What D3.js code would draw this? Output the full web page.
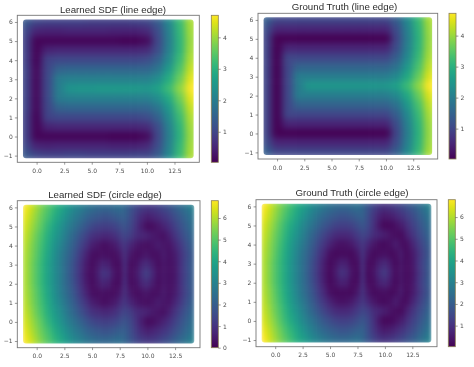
<!DOCTYPE html>
<html>
<head>
<meta charset="utf-8">
<script src="https://cdnjs.cloudflare.com/ajax/libs/d3/7.8.5/d3.min.js"></script>
<style>
  html, body { margin: 0; padding: 0; background: #fff; }
  svg { display: block; }
  .tick text { font-family: "DejaVu Sans", sans-serif; font-size: 6px; fill: #444; opacity: 0.95; }
  .tick line { stroke: #555; stroke-width: 0.6; }
  .domain { display: none; }
  .title { font-family: "Liberation Sans", Arial, sans-serif; font-size: 9.7px; fill: #222; text-anchor: middle; opacity: 0.95; }
</style>
</head>
<body>
<svg id="fig" width="474" height="367"></svg>
<script>
const xTicks = [0, 2.5, 5, 7.5, 10, 12.5];
const yTicks = [-1, 0, 1, 2, 3, 4, 5, 6];
const yRows = [6, 5.5, 5, 4.5, 4, 3.5, 3, 2.5, 2, 1.5, 1, 0.5, 0, -0.5, -1];
const xLine = [-1, 0, 1, 2, 3, 4, 5, 6, 7, 8, 9, 10, 11, 12, 13, 14];
const xCircle = [-1, -0.5, 0, 0.5, 1, 1.5, 2, 2.5, 3, 3.5, 4, 4.5, 5, 5.5, 6, 6.5, 7, 7.5, 8, 8.5, 9, 9.5, 10, 10.5, 11, 11.5, 12, 12.5, 13, 13.5, 14];

const lineTicks = [1, 2, 3, 4];
const learnedCircleTicks = [0, 1, 2, 3, 4, 5, 6];
const truthCircleTicks = [1, 2, 3, 4, 5, 6];

const learnedLine = [
  [1.3,1,.95,.95,.95,.95,.9,.9,.9,.9,.95,1,1.35,2.2,3.2,4.1],
  [1.05,.5,.45,.45,.5,.5,.5,.5,.45,.45,.45,.55,1.1,2.05,3.1,4.05],
  [.95,.1,.1,.1,.1,.1,.1,.1,.1,.05,.05,.15,1,2,3.05,4],
  [.95,.1,.5,.55,.55,.55,.55,.55,.55,.55,.55,.6,1.1,2.05,3.05,4.05],
  [.95,.1,.95,1.05,1.05,1.05,1.05,1.05,1.05,1.05,1.05,1.1,1.45,2.25,3.2,4.15],
  [1,.15,1,1.5,1.55,1.55,1.55,1.55,1.55,1.55,1.55,1.55,1.85,2.55,3.4,4.3],
  [1,.15,1.05,1.95,2.05,2.05,2.05,2.05,2.05,2.05,2.05,2.05,2.3,2.9,3.65,4.5],
  [1,.15,1.05,2,2.45,2.5,2.5,2.55,2.55,2.55,2.55,2.5,2.7,3.2,3.9,4.7],
  [1,.15,1.05,1.95,2.05,2.05,2.05,2.05,2.05,2.05,2.05,2.05,2.3,2.85,3.65,4.5],
  [1,.15,1,1.5,1.55,1.55,1.55,1.55,1.55,1.55,1.55,1.55,1.85,2.5,3.4,4.3],
  [.95,.1,.95,1.05,1.05,1.05,1.05,1.05,1.05,1.05,1.05,1.1,1.45,2.25,3.2,4.15],
  [.95,.1,.5,.55,.55,.55,.55,.55,.55,.55,.55,.6,1.1,2.05,3.05,4.05],
  [.95,.1,.1,.1,.1,.1,.1,.1,.05,.05,.05,.15,1,2,3,4],
  [1.05,.5,.45,.5,.5,.5,.5,.5,.45,.45,.45,.55,1.1,2.05,3.1,4.05],
  [1.3,1,.95,.95,1,1,.95,.95,.95,.95,1,1,1.35,2.2,3.2,4.1]
];

const truthLine = [
  [1.41,1,1,1,1,1,1,1,1,1,1,1,1.41,2.24,3.16,4.12],
  [1.12,.5,.5,.5,.5,.5,.5,.5,.5,.5,.5,.5,1.12,2.06,3.04,4.03],
  [1,0,0,0,0,0,0,0,0,0,0,0,1,2,3,4],
  [1,0,.5,.5,.5,.5,.5,.5,.5,.5,.5,.5,1.12,2.06,3.04,4.03],
  [1,0,1,1,1,1,1,1,1,1,1,1,1.41,2.24,3.16,4.12],
  [1,0,1,1.5,1.5,1.5,1.5,1.5,1.5,1.5,1.5,1.5,1.8,2.5,3.35,4.27],
  [1,0,1,2,2,2,2,2,2,2,2,2,2.24,2.83,3.61,4.47],
  [1,0,1,2,2.5,2.5,2.5,2.5,2.5,2.5,2.5,2.5,2.69,3.2,3.9,4.72],
  [1,0,1,2,2,2,2,2,2,2,2,2,2.24,2.83,3.61,4.47],
  [1,0,1,1.5,1.5,1.5,1.5,1.5,1.5,1.5,1.5,1.5,1.8,2.5,3.35,4.27],
  [1,0,1,1,1,1,1,1,1,1,1,1,1.41,2.24,3.16,4.12],
  [1,0,.5,.5,.5,.5,.5,.5,.5,.5,.5,.5,1.12,2.06,3.04,4.03],
  [1,0,0,0,0,0,0,0,0,0,0,0,1,2,3,4],
  [1.12,.5,.5,.5,.5,.5,.5,.5,.5,.5,.5,.5,1.12,2.06,3.04,4.03],
  [1.41,1,1,1,1,1,1,1,1,1,1,1,1.41,2.24,3.16,4.12]
];

const truthCircle = [
  [6.8,6.35,5.9,5.45,5.05,4.65,4.25,3.9,3.55,3.2,2.95,2.7,2.5,2.35,2.3,2.3,2.4,2.5,2.25,1.8,1.4,1.1,1,1.1,1.25,1.45,1.7,1.95,2.25,2.6,2.95],
  [6.6,6.15,5.7,5.25,4.8,4.4,4,3.6,3.2,2.85,2.5,2.25,2.05,1.9,1.8,1.8,1.9,2.05,2.1,1.6,1.1,.7,.5,.6,.75,1,1.25,1.55,1.9,2.25,2.65],
  [6.4,5.95,5.5,5,4.55,4.1,3.7,3.25,2.85,2.5,2.15,1.85,1.6,1.4,1.3,1.3,1.4,1.6,1.85,1.5,1,.45,.15,.18,.3,.55,.9,1.25,1.6,2,2.4],
  [6.25,5.8,5.3,4.85,4.35,3.9,3.45,3,2.55,2.15,1.75,1.4,1.1,.9,.8,.8,.95,1.2,1.45,1.25,.9,.75,.6,.4,.25,.2,.6,1,1.4,1.8,2.2],
  [6.15,5.65,5.2,4.7,4.2,3.7,3.25,2.8,2.35,1.9,1.45,1.05,.7,.45,.3,.35,.5,.8,1.1,.75,.45,.25,.2,.32,.56,.3,.25,.65,1.1,1.55,2],
  [6.05,5.6,5.1,4.6,4.1,3.6,3.1,2.6,2.15,1.7,1.2,.75,.32,.2,.22,.22,.2,.45,1,.45,.2,.25,.3,.2,.25,.5,.22,.45,.9,1.4,1.85],
  [6,5.5,5,4.5,4,3.5,3,2.5,2.05,1.55,1.05,.55,.2,.35,.65,.6,.25,.25,.9,.25,.27,.66,.8,.52,.2,.42,.25,.4,.95,1.45,1.95],
  [6,5.5,5,4.5,4,3.5,3,2.5,2,1.5,1,.5,.2,.5,1,.9,.4,.22,.85,.22,.4,.9,1.2,.7,.25,.42,.25,.35,.9,1.4,1.9],
  [6,5.5,5,4.5,4,3.5,3,2.5,2.05,1.55,1.05,.55,.2,.35,.65,.6,.25,.25,.9,.25,.27,.66,.8,.52,.2,.42,.25,.4,.95,1.45,1.95],
  [6.05,5.6,5.1,4.6,4.1,3.6,3.1,2.6,2.15,1.7,1.2,.75,.32,.2,.22,.22,.2,.45,1,.45,.2,.25,.3,.2,.25,.5,.22,.45,.9,1.4,1.85],
  [6.15,5.65,5.2,4.7,4.2,3.7,3.25,2.8,2.35,1.9,1.45,1.05,.7,.45,.3,.35,.5,.8,1.1,.75,.45,.25,.2,.32,.56,.3,.25,.65,1.1,1.55,2],
  [6.25,5.8,5.3,4.85,4.35,3.9,3.45,3,2.55,2.15,1.75,1.4,1.1,.9,.8,.8,.95,1.2,1.45,1.25,.9,.75,.6,.4,.25,.2,.6,1,1.4,1.8,2.2],
  [6.4,5.95,5.5,5,4.55,4.1,3.7,3.25,2.85,2.5,2.15,1.85,1.6,1.4,1.3,1.3,1.4,1.6,1.85,1.5,1,.45,.15,.18,.3,.55,.9,1.25,1.6,2,2.4],
  [6.6,6.15,5.7,5.25,4.8,4.4,4,3.6,3.2,2.85,2.5,2.25,2.05,1.9,1.8,1.8,1.9,2.05,2.1,1.6,1.1,.7,.5,.6,.75,1,1.25,1.55,1.9,2.25,2.65],
  [6.8,6.35,5.9,5.45,5.05,4.65,4.25,3.9,3.55,3.2,2.95,2.7,2.5,2.35,2.3,2.3,2.4,2.5,2.25,1.8,1.4,1.1,1,1.1,1.25,1.45,1.7,1.95,2.25,2.6,2.95]
];

const learnedCircle = [
  [6.7,6.3,5.85,5.4,5,4.6,4.2,3.85,3.5,3.15,2.9,2.65,2.45,2.3,2.25,2.25,2.35,2.4,2.2,1.8,1.45,1.2,1.1,1.15,1.3,1.5,1.7,2,2.3,2.6,2.9],
  [6.55,6.1,5.65,5.2,4.8,4.35,3.95,3.55,3.15,2.8,2.5,2.2,2,1.85,1.75,1.75,1.85,2,2,1.6,1.15,.8,.6,.7,.85,1.05,1.3,1.6,1.9,2.25,2.6],
  [6.35,5.9,5.45,5,4.5,4.05,3.65,3.2,2.8,2.45,2.1,1.8,1.5,1.35,1.25,1.25,1.35,1.55,1.75,1.45,1,.55,.2,.25,.45,.65,.95,1.3,1.65,2,2.4],
  [6.2,5.75,5.25,4.8,4.3,3.85,3.4,2.95,2.5,2.1,1.7,1.35,1,.85,.75,.75,.9,1.15,1.4,1.2,.85,.75,.65,.5,.35,.3,.6,1,1.4,1.8,2.2],
  [6.1,5.6,5.15,4.65,4.15,3.65,3.2,2.75,2.3,1.85,1.4,1,.6,.4,.25,.3,.45,.75,1.05,.7,.45,.3,.25,.35,.55,.4,.35,.7,1.1,1.55,2],
  [6,5.55,5.05,4.55,4.05,3.55,3.05,2.55,2.1,1.65,1.15,.65,.28,.22,.3,.25,.22,.45,.9,.4,.22,.3,.4,.25,.28,.5,.3,.5,.95,1.4,1.85],
  [5.95,5.45,4.95,4.45,3.95,3.45,2.95,2.45,2,1.5,1,.5,.22,.4,.7,.6,.25,.25,.8,.22,.3,.7,.85,.55,.25,.42,.3,.45,.95,1.45,1.9],
  [5.95,5.45,4.95,4.45,3.95,3.45,2.95,2.45,1.95,1.45,.95,.45,.22,.55,1.05,.95,.4,.22,.75,.22,.45,.95,1.25,.75,.3,.42,.3,.4,.95,1.4,1.9],
  [5.95,5.45,4.95,4.45,3.95,3.45,2.95,2.45,2,1.5,1,.5,.22,.4,.7,.6,.25,.25,.8,.22,.3,.7,.85,.55,.25,.42,.3,.45,.95,1.45,1.9],
  [6,5.55,5.05,4.55,4.05,3.55,3.05,2.55,2.1,1.65,1.15,.65,.28,.22,.3,.25,.22,.45,.9,.4,.22,.3,.4,.25,.28,.5,.3,.5,.95,1.4,1.85],
  [6.1,5.6,5.15,4.65,4.15,3.65,3.2,2.75,2.3,1.85,1.4,1,.6,.4,.25,.3,.45,.75,1.05,.7,.45,.3,.25,.35,.55,.4,.35,.7,1.1,1.55,2],
  [6.2,5.75,5.25,4.8,4.3,3.85,3.4,2.95,2.5,2.1,1.7,1.35,1,.85,.75,.75,.9,1.15,1.4,1.2,.85,.75,.65,.5,.35,.3,.6,1,1.4,1.8,2.2],
  [6.35,5.9,5.45,5,4.5,4.05,3.65,3.2,2.8,2.45,2.1,1.8,1.5,1.35,1.25,1.25,1.35,1.55,1.75,1.45,1,.55,.2,.25,.45,.65,.95,1.3,1.65,2,2.4],
  [6.55,6.1,5.65,5.2,4.8,4.35,3.95,3.55,3.15,2.8,2.5,2.2,2,1.85,1.75,1.75,1.85,2,2,1.6,1.15,.8,.6,.7,.85,1.05,1.3,1.6,1.9,2.25,2.6],
  [6.7,6.3,5.85,5.4,5,4.6,4.2,3.85,3.5,3.15,2.9,2.65,2.45,2.3,2.25,2.25,2.35,2.4,2.2,1.8,1.45,1.2,1.1,1.15,1.3,1.5,1.7,2,2.3,2.6,2.9]
];

const svg = d3.select("#fig");
const defs = svg.append("defs");

// viridis gradient for the colorbars
let grad = defs.append("linearGradient")
  .attr("id", "viridis")
  .attr("x1", 0).attr("x2", 0).attr("y1", 1).attr("y2", 0);
d3.range(0, 1.01, 0.05).forEach(function(t) {
  grad.append("stop").attr("offset", t).attr("stop-color", d3.interpolateViridis(t));
});

function drawPanel(id, opts) {
  let x = d3.scaleLinear().domain([-1.75, 14.75]).range([opts.left, opts.right]);
  let y = d3.scaleLinear().domain([-1.35, 6.35]).range([opts.bottom, opts.top]);
  let color = d3.scaleSequential(d3.interpolateViridis).domain(opts.range);

  let dx = x(opts.cols[1]) - x(opts.cols[0]);
  let dy = y(yRows[1]) - y(yRows[0]);

  // blur smooths the cells, the clip gives the rounded marker edge
  let f = defs.append("filter")
    .attr("id", "blur" + id)
    .attr("filterUnits", "userSpaceOnUse")
    .attr("x", x(-1) - dx / 2).attr("y", y(6) - dy / 2)
    .attr("width", x(14) - x(-1) + dx).attr("height", y(-1) - y(6) + dy)
    .attr("color-interpolation-filters", "sRGB");
  f.append("feGaussianBlur")
    .attr("stdDeviation", opts.blur)
    .attr("edgeMode", "duplicate");

  defs.append("clipPath").attr("id", "clip" + id)
    .append("rect")
    .attr("x", x(-1) - 2.6).attr("y", y(6) - 2.6)
    .attr("width", x(14) - x(-1) + 5.2).attr("height", y(-1) - y(6) + 5.2)
    .attr("rx", 3);

  let cells = svg.append("g").attr("clip-path", "url(#clip" + id + ")")
    .append("g").attr("filter", "url(#blur" + id + ")");

  opts.values.forEach(function(row, i) {
    cells.selectAll(null)
      .data(row)
      .enter().append("rect")
      .attr("x", function(d, j) { return x(opts.cols[j]) - dx / 2 - 0.3; })
      .attr("y", y(yRows[i]) - dy / 2 - 0.3)
      .attr("width", dx + 0.6)
      .attr("height", dy + 0.6)
      .attr("fill", function(d) { return color(d); });
  });

  svg.append("rect")
    .attr("x", opts.left).attr("y", opts.top)
    .attr("width", opts.right - opts.left).attr("height", opts.bottom - opts.top)
    .attr("fill", "none").attr("stroke", "#777").attr("stroke-width", 0.9);

  svg.append("g")
    .attr("transform", "translate(0," + opts.bottom + ")")
    .call(d3.axisBottom(x).tickValues(xTicks).tickFormat(d3.format(".1f")).tickSize(2.4).tickPadding(4));
  svg.append("g")
    .attr("transform", "translate(" + opts.left + ",0)")
    .call(d3.axisLeft(y).tickValues(yTicks).tickFormat(d3.format("d")).tickSize(2.4).tickPadding(2.2));

  svg.append("text").attr("class", "title")
    .attr("x", opts.titleX).attr("y", opts.titleY)
    .text(opts.title);

  // colorbar
  let c = d3.scaleLinear().domain(opts.range).range([opts.bottom, opts.top]);
  svg.append("rect")
    .attr("x", opts.barX).attr("y", opts.top)
    .attr("width", 7).attr("height", opts.bottom - opts.top)
    .attr("fill", "url(#viridis)")
    .attr("stroke", "#8a7f55").attr("stroke-width", 0.8);
  svg.append("g")
    .attr("transform", "translate(" + (opts.barX + 7) + ",0)")
    .call(d3.axisRight(c).tickValues(opts.ticks).tickFormat(d3.format("d")).tickSize(2.4).tickPadding(2.2));
}

drawPanel("a", {
  title: "Learned SDF (line edge)", titleX: 113, titleY: 13.3,
  left: 17.3, right: 199.3, top: 15.3, bottom: 162.3, barX: 211.3,
  cols: xLine, values: learnedLine, range: [0.03, 4.7], ticks: lineTicks, blur: "3.7 3"
});
drawPanel("b", {
  title: "Ground Truth (line edge)", titleX: 344.5, titleY: 10.3,
  left: 258, right: 437.7, top: 13.3, bottom: 159, barX: 449,
  cols: xLine, values: truthLine, range: [0.02, 4.72], ticks: lineTicks, blur: "3.7 3"
});
drawPanel("c", {
  title: "Learned SDF (circle edge)", titleX: 105, titleY: 197.8,
  left: 17.3, right: 200, top: 200.7, bottom: 347.7, barX: 211.3,
  cols: xCircle, values: learnedCircle, range: [0, 6.8], ticks: learnedCircleTicks, blur: "2.3 3"
});
drawPanel("d", {
  title: "Ground Truth (circle edge)", titleX: 352, titleY: 196.3,
  left: 256, right: 437, top: 199.7, bottom: 346.7, barX: 448.3,
  cols: xCircle, values: truthCircle, range: [0.03, 6.8], ticks: truthCircleTicks, blur: "2.3 3"
});
</script>
</body>
</html>
